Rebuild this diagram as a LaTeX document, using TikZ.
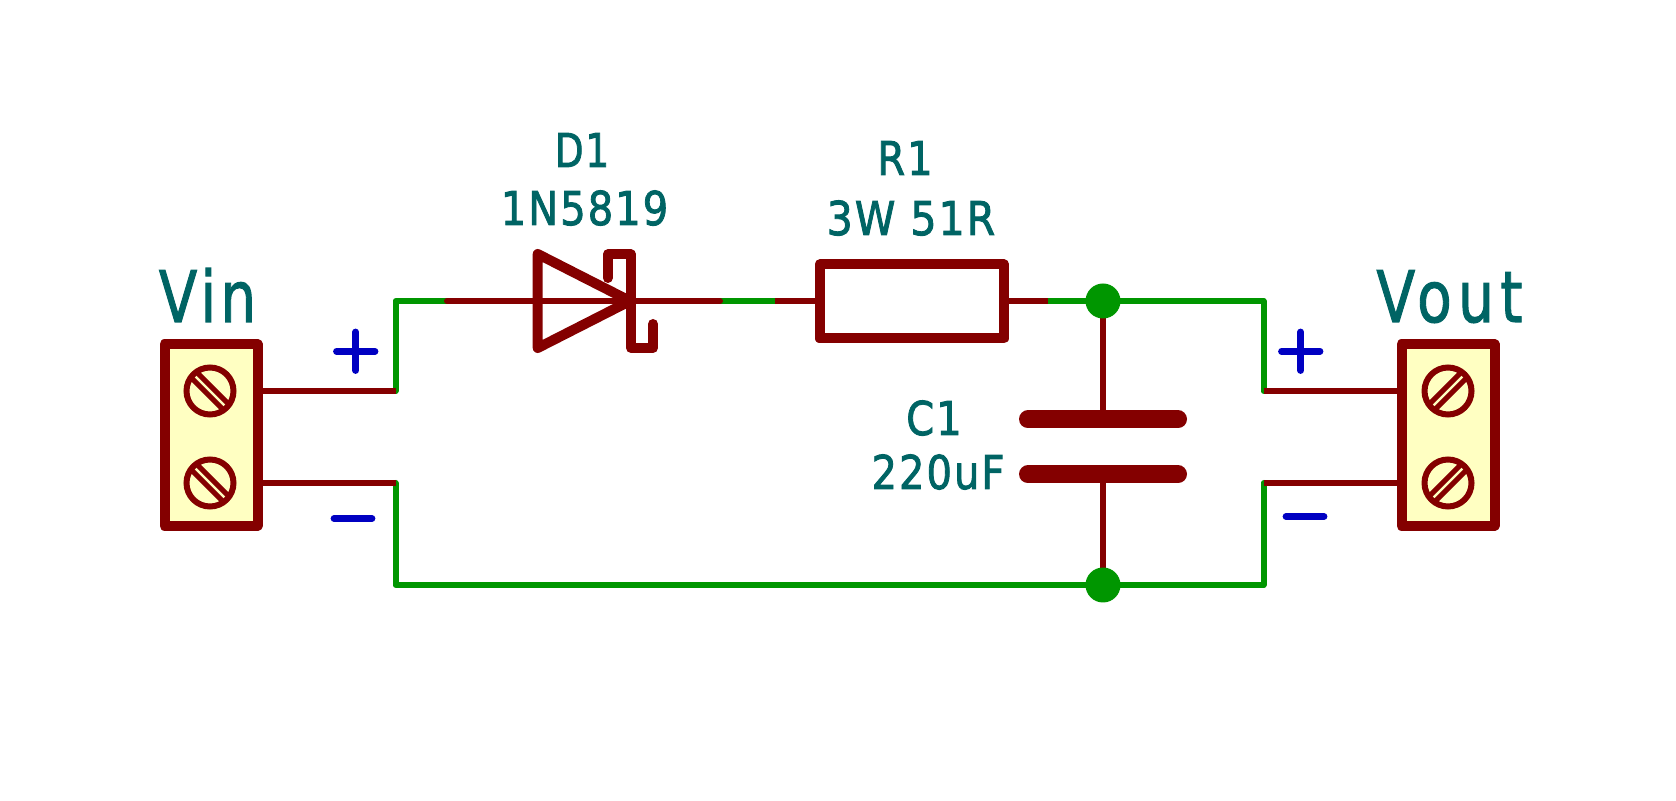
\documentclass[tikz,border=0pt]{standalone}
\usepackage{fontspec}
\setmainfont{DejaVu Sans}
\newfontfamily\labs[RawFeature={embolden=2},LetterSpace=5]{DejaVu Sans}
\newfontfamily\labv[RawFeature={embolden=1.6},LetterSpace=8]{DejaVu Sans}
\newfontfamily\labo[RawFeature={embolden=1.6},LetterSpace=11]{DejaVu Sans}
\definecolor{part}{RGB}{132,0,0}
\definecolor{wirec}{RGB}{0,150,0}
\definecolor{mark}{RGB}{0,0,194}
\definecolor{lab}{RGB}{0,100,100}
\definecolor{fillc}{RGB}{255,255,194}
\tikzset{
  pinw/.style={draw=part,line width=3pt,line cap=round},
  wirew/.style={draw=wirec,line width=3pt,line cap=round,line join=round},
  body/.style={draw=part,line width=5pt,line cap=round,line join=round},
  plate/.style={draw=part,line width=9pt,line cap=round},
  markw/.style={draw=mark,line width=3.4pt,line cap=round},
  termbox/.style={rectangle,draw=part,fill=fillc,line width=5pt,line join=round,inner sep=0pt,minimum width=46.5pt,minimum height=90.75pt},
  resbox/.style={rectangle,draw=part,fill=white,line width=5pt,line join=round,inner sep=0pt,minimum width=92.2pt,minimum height=37pt},
  dot/.style={circle,fill=wirec,inner sep=0pt,minimum size=17.5pt},
  small/.style={text=lab,inner sep=0pt,anchor=base,font=\labs\fontsize{23.3pt}{28pt}\selectfont},
  bigv/.style={text=lab,inner sep=0pt,anchor=base,font=\labv\fontsize{35.5pt}{42pt}\selectfont},
  bigo/.style={text=lab,inner sep=0pt,anchor=base,font=\labo\fontsize{35.5pt}{42pt}\selectfont},
  screwc/.style={circle,draw=part,line width=3pt,inner sep=0pt,minimum size=23.5pt},
  pics/slotl/.style={code={
    \draw[part,line width=2.6pt] (-13.5,-19) -- (19,13.5);
    \draw[part,line width=2.6pt] (-19,-13.5) -- (13.5,19);}},
  pics/slotr/.style={code={
    \draw[part,line width=2.6pt] (13.5,-19) -- (-19,13.5);
    \draw[part,line width=2.6pt] (19,-13.5) -- (-13.5,19);}},
}
\begin{document}
\begin{tikzpicture}[x=0.5pt,y=-0.5pt]
\useasboundingbox (0,0) rectangle (1676,801);
% terminals
\node[termbox] (J1) at (211,435) {};
\node[termbox] (J2) at (1448,435) {};
\node[screwc] (s1) at (210,391) {};
\node[screwc] (s2) at (210,483) {};
\node[screwc] (s3) at (1448,391) {};
\node[screwc] (s4) at (1448,483) {};
\pic at (s1) {slotl};
\pic at (s2) {slotl};
\pic at (s3) {slotr};
\pic at (s4) {slotr};
% named points
\coordinate (a1) at (395.5,391);
\coordinate (a2) at (395.5,483);
\coordinate (b1) at (1263.5,391);
\coordinate (b2) at (1263.5,483);
\coordinate (tl) at (395.5,301);
\coordinate (tr) at (1263.5,301);
\coordinate (bl) at (395.5,585);
\coordinate (br) at (1263.5,585);
\coordinate (w1) at (447,301);
\coordinate (dk) at (630,301);
\coordinate (w2) at (720,301);
\coordinate (w3) at (775,301);
\coordinate (w4) at (1048,301);
\coordinate (j1) at (1103,301);
\coordinate (j2) at (1103,585);
\coordinate (c1) at (1103,419.3);
\coordinate (c2) at (1103,474.3);
\node[resbox] (R) at (911.8,301.5) {};
% wires
\draw[wirew] (a1) -- (tl) -- (w1);
\draw[wirew] (w2) -- (w3);
\draw[wirew] (w4) -- (j1);
\draw[wirew] (j1) -- (tr) -- (b1);
\draw[wirew] (a2) -- (bl) -- (j2);
\draw[wirew] (j2) -- (br) -- (b2);
% pins
\draw[pinw,line cap=butt] (J1.east |- a1) -- (a1);
\draw[pinw,line cap=butt] (J1.east |- a2) -- (a2);
\draw[pinw,line cap=butt] (J2.west |- b1) -- (b1);
\draw[pinw,line cap=butt] (J2.west |- b2) -- (b2);
\draw[pinw] (w1) -- (w2);
\draw[pinw,line cap=butt] (w3) -- (R.west |- w3);
\draw[pinw,line cap=butt] (R.east |- w4) -- (w4);
\draw[pinw,line cap=butt] (j1) -- (c1);
\draw[pinw,line cap=butt] (c2) -- (j2);
% junction dots
\node[dot] (n1) at (j1) {};
\node[dot] (n2) at (j2) {};
% diode
\draw[body] (537.7,348) -- (537.7,254) -- (dk) -- cycle;
\draw[body] (607.7,278) -- (607.7,254.5) -- (631,254.5) -- (631,348) -- (653,348) -- (653,324);
% capacitor
\draw[plate] (1028,419.3) -- (1178,419.3);
\draw[plate] (1028,474.3) -- (1178,474.3);
% polarity marks
\draw[markw] (336.5,351.3) -- (375,351.3);
\draw[markw] (355.7,332) -- (355.7,370.5);
\draw[markw] (1281.5,351.3) -- (1320,351.3);
\draw[markw] (1300.7,332) -- (1300.7,370.5);
\draw[markw] (334,518.5) -- (372,518.5);
\draw[markw] (1286,516.5) -- (1324,516.5);
% labels
\node[small,xscale=.8] (t1) at (582,167) {D1};
\node[small,xscale=.86] (t2) at (584.5,225) {1N5819};
\node[small,xscale=.86] (t3) at (905,175) {R1};
\node[small,xscale=.88] (t4) at (911,235) {3W 51R};
\node[small,xscale=.86] (t5) at (934,435) {C1};
\node[small,xscale=.86] (t6) at (938,489) {220uF};
\node[bigv,xscale=.79] (t7) at (207.5,322) {Vin};
\node[bigo,xscale=.8] (t8) at (1449.5,322) {Vout};
\end{tikzpicture}
\end{document}
